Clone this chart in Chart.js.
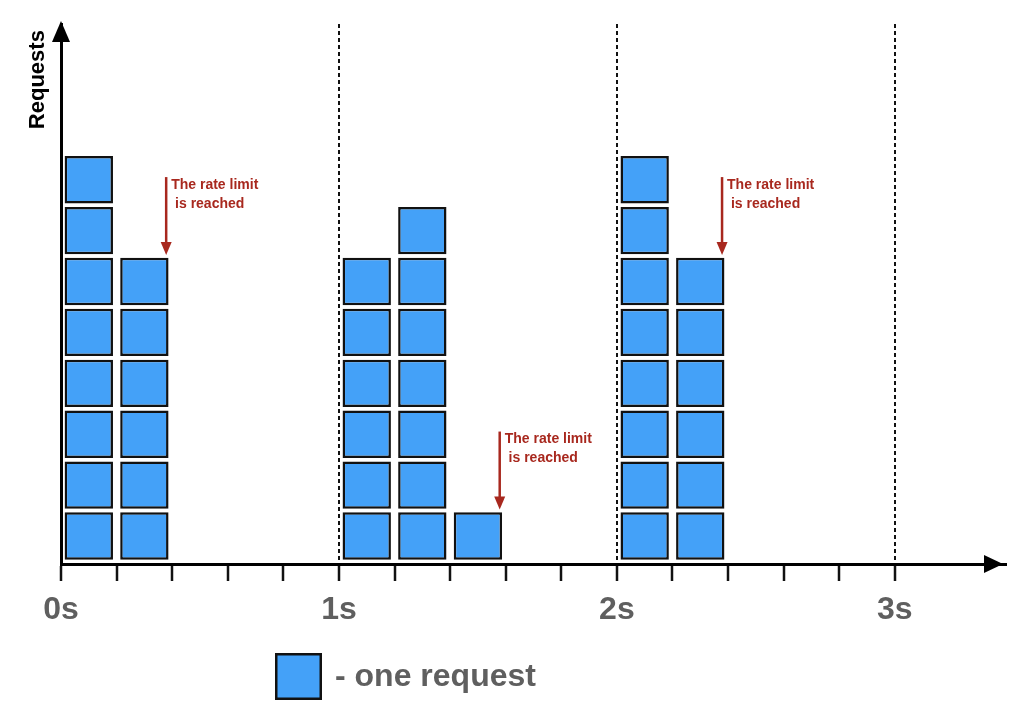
<!DOCTYPE html>
<html>
<head>
<meta charset="UTF-8">
<title>Rate limit</title>
<script src="https://cdn.jsdelivr.net/npm/chart.js@4"></script>
<style>
  html, body { margin: 0; padding: 0; background: #fff; }
  #wrap { width: 1024px; height: 726px; }
</style>
</head>
<body>
<div id="wrap"><canvas id="myChart"></canvas></div>
<script>
// one slot = 0.2 s
var slots = ['0.0', '0.2', '0.4', '0.6', '0.8', '1.0', '1.2', '1.4', '1.6', '1.8',
             '2.0', '2.2', '2.4', '2.6', '2.8', '3.0', '3.2'];
var requests = [8, 6, 0, 0, 0, 6, 7, 1, 0, 0, 8, 6, 0, 0, 0, 0, 0];
var secondLabels = ['0s', '1s', '2s', '3s'];
var limitAt = [0.4, 1.6, 2.4];
var limitHeight = [6, 1, 6];
var limitText = ['The rate limit', ' is reached'];
var legendText = '- one request';

var FONT = "'Liberation Sans', Arial, Helvetica, sans-serif";
var BLUE = '#44a1f8';
var RED = '#a8281e';
var GREY = '#5f5f5f';
var GAP = 0.035; // white space between stacked squares, in request units

// one dataset per row so every request is its own square
var maxRows = Math.max.apply(null, requests);
var datasets = [];
for (var k = 0; k < maxRows; k++) {
    datasets.push({
        label: 'row ' + (k + 1),
        data: requests.map(function(c) { return c > k ? [k + GAP, k + 1 - GAP] : null; }),
        xAxisID: 'slots',
        yAxisID: 'y',
        grouped: false,
        backgroundColor: BLUE,
        borderColor: '#111',
        borderWidth: 2.5,
        borderSkipped: false,
        barPercentage: 0.87,
        categoryPercentage: 1
    });
}

function isWhole(v) { return Math.abs(v - Math.round(v)) < 1e-6; }

var axisArrows = {
    id: 'axisArrows',
    afterDraw: function(chart) {
        var ctx = chart.ctx, a = chart.chartArea;
        ctx.save();
        ctx.fillStyle = '#000';
        ctx.beginPath();
        ctx.moveTo(a.left, a.top - 3);
        ctx.lineTo(a.left - 9, a.top + 18);
        ctx.lineTo(a.left + 9, a.top + 18);
        ctx.closePath();
        ctx.fill();
        ctx.beginPath();
        ctx.moveTo(a.right - 3, a.bottom);
        ctx.lineTo(a.right - 22, a.bottom - 9);
        ctx.lineTo(a.right - 22, a.bottom + 9);
        ctx.closePath();
        ctx.fill();
        ctx.restore();
    }
};

var limitNotes = {
    id: 'limitNotes',
    afterDatasetsDraw: function(chart) {
        var ctx = chart.ctx, xs = chart.scales.x, ys = chart.scales.y;
        ctx.save();
        ctx.strokeStyle = RED;
        ctx.fillStyle = RED;
        ctx.lineWidth = 2.5;
        ctx.font = 'bold 14px ' + FONT;
        ctx.textBaseline = 'middle';
        for (var i = 0; i < limitAt.length; i++) {
            var x = xs.getPixelForValue(limitAt[i]) - 6;
            var tip = ys.getPixelForValue(limitHeight[i]) - 1;
            var tail = tip - 78;
            ctx.beginPath();
            ctx.moveTo(x, tail);
            ctx.lineTo(x, tip - 10);
            ctx.stroke();
            ctx.beginPath();
            ctx.moveTo(x, tip);
            ctx.lineTo(x - 5.5, tip - 13);
            ctx.lineTo(x + 5.5, tip - 13);
            ctx.closePath();
            ctx.fill();
            ctx.fillText(limitText[0], x + 5, tail + 8);
            ctx.fillText(limitText[1], x + 5, tail + 27);
        }
        ctx.restore();
    }
};

var requestKey = {
    id: 'requestKey',
    afterDraw: function(chart) {
        var ctx = chart.ctx;
        ctx.save();
        ctx.fillStyle = '#111';
        ctx.fillRect(275, 653, 47, 47);
        ctx.fillStyle = BLUE;
        ctx.fillRect(277.5, 655.5, 42, 42);
        ctx.fillStyle = GREY;
        ctx.font = 'bold 32px ' + FONT;
        ctx.textBaseline = 'middle';
        ctx.fillText(legendText, 335, 677);
        ctx.restore();
    }
};

var ctx = document.getElementById('myChart').getContext('2d');
var chart = new Chart(ctx, {
    type: 'bar',
    data: {
        labels: slots,
        datasets: datasets
    },
    plugins: [axisArrows, limitNotes, requestKey],
    options: {
        responsive: true,
        maintainAspectRatio: false,
        animation: false,
        layout: { padding: { left: 0, top: 24, right: 18, bottom: 92 } },
        plugins: {
            legend: { display: false },
            tooltip: { enabled: false }
        },
        scales: {
            slots: {
                type: 'category',
                position: 'bottom',
                display: false,
                offset: true
            },
            x: {
                type: 'linear',
                position: 'bottom',
                offset: false,
                min: 0,
                max: slots.length * 0.2,
                afterBuildTicks: function(s) {
                    s.ticks = s.ticks.filter(function(t) { return t.value < slots.length * 0.2 - 0.1; });
                },
                afterFit: function(s) { s.height = 70; },
                ticks: {
                    stepSize: 0.2,
                    autoSkip: false,
                    maxRotation: 0,
                    padding: 10,
                    color: GREY,
                    font: { family: FONT, size: 32, weight: 'bold' },
                    callback: function(v) {
                        return isWhole(v) ? secondLabels[Math.round(v)] : '';
                    }
                },
                grid: {
                    offset: false,
                    color: function(c) {
                        var v = c.tick ? c.tick.value : 0;
                        return (isWhole(v) && v > 0.5) ? '#111' : 'rgba(0,0,0,0)';
                    },
                    lineWidth: 2,
                    tickLength: 17,
                    tickColor: '#111',
                    tickWidth: 2.5,
                    tickBorderDash: []
                },
                border: { color: '#000', width: 3, dash: [4, 3] }
            },
            y: {
                type: 'linear',
                min: -0.05,
                max: 10.56,
                afterFit: function(s) { s.width = 61; },
                ticks: { display: false },
                grid: { display: false },
                border: { color: '#000', width: 3 },
                title: {
                    display: true,
                    text: 'Requests ',
                    align: 'end',
                    color: '#000',
                    padding: { top: 25, bottom: 0 },
                    font: { family: FONT, size: 22, weight: 'bold' }
                }
            }
        }
    }
});
</script>
</body>
</html>
